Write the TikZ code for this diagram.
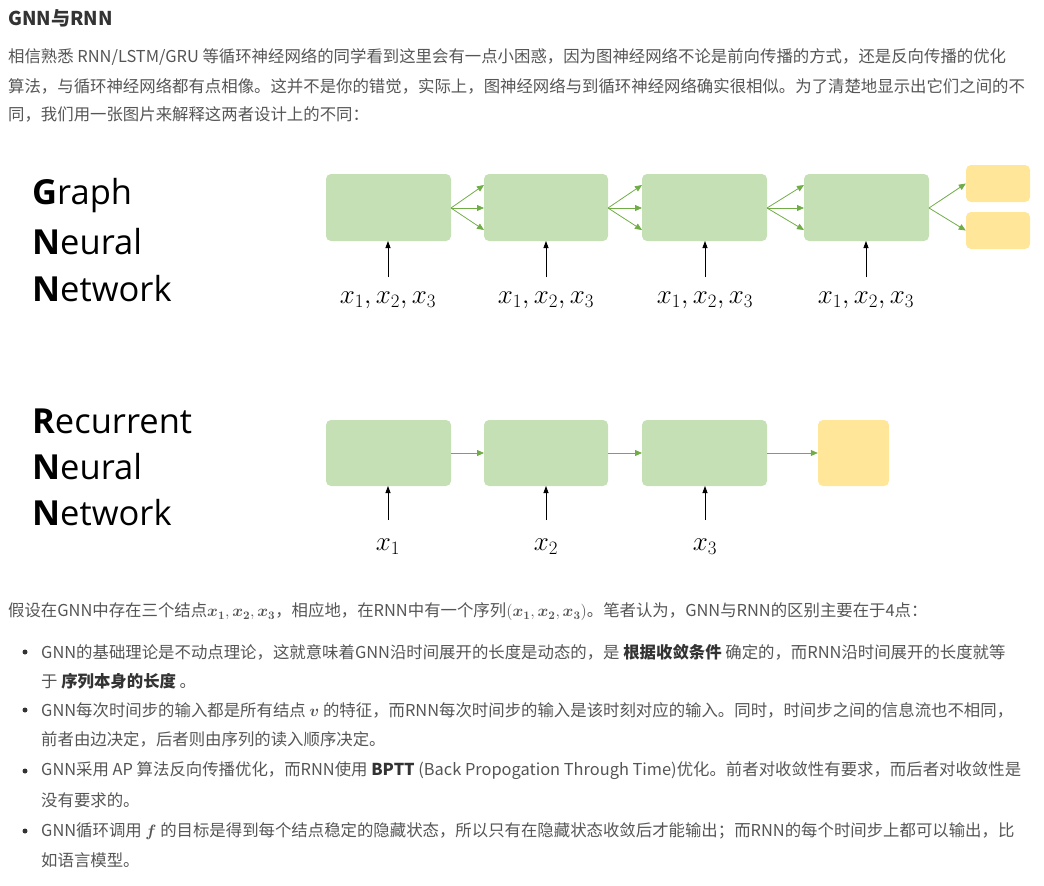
\RequirePackage{fix-cm}
\documentclass[tikz,border=0pt]{standalone}
\usepackage{amsmath}
\usepackage{fontspec}
\setmainfont{Noto Sans CJK SC}
\newfontfamily\os{Open Sans}
\usetikzlibrary{arrows.meta}
\definecolor{gbox}{HTML}{C5E0B4}
\definecolor{ybox}{HTML}{FFE699}
\definecolor{garr}{HTML}{70AD47}
\definecolor{txt}{HTML}{555555}
\definecolor{ttl}{HTML}{333333}
\tikzset{
 gb/.style={fill=gbox,rounded corners=5pt,draw=none},
 yb/.style={fill=ybox,rounded corners=5pt,draw=none},
 ga/.style={draw=garr,line width=0.8pt,-{Triangle[length=7pt,width=6pt]}},
 ba/.style={draw=black,line width=0.8pt,-{Triangle[length=7pt,width=5pt]}},
 lbl/.style={font=\fontsize{27}{30}\selectfont},
 big/.style={font=\os\fontsize{34.5}{38}\selectfont,anchor=west,inner sep=0},
 tx/.style={font=\fontsize{16.4}{19}\selectfont,text=txt,anchor=west,inner sep=0},
 dot/.style={circle,fill=ttl,inner sep=0,minimum size=5pt}
}
\begin{document}
\begin{tikzpicture}[x=1pt,y=-1pt]
\useasboundingbox (0,0) rectangle (1044,886);
\node[anchor=west,inner sep=0,font=\fontsize{19}{22}\selectfont\bfseries,text=ttl] (title) at (8,18) {GNN与RNN};
\node[tx] (p1) at (8,57) {相信熟悉 RNN/LSTM/GRU 等循环神经网络的同学看到这里会有一点小困惑，因为图神经网络不论是前向传播的方式，还是反向传播的优化};
\node[tx] (p2) at (8,86) {算法，与循环神经网络都有点相像。这并不是你的错觉，实际上，图神经网络与到循环神经网络确实很相似。为了清楚地显示出它们之间的不};
\node[tx] (p3) at (8,114) {同，我们用一张图片来解释这两者设计上的不同：};
% left labels
\node[big] (g1) at (32,196) {\textbf{G}raph};
\node[big] (g2) at (32,242) {\textbf{N}eural};
\node[big] (g3) at (32,289) {\textbf{N}etwork};
\node[big] (r1) at (32,421) {\textbf{R}ecurrent};
\node[big] (r2) at (32,467) {\textbf{N}eural};
\node[big] (r3) at (32,513) {\textbf{N}etwork};
% GNN
\foreach \i/\a/\b in {1/326/451,2/484/608,3/642/767,4/804/929}{
 \fill[gb] (\a,174) rectangle (\b,241);
 \coordinate (G\i r) at (\b,208);
 \coordinate (G\i l) at (\a,208);
 \coordinate (G\i t) at (\a,185);
 \coordinate (G\i d) at (\a,230);
}
\node[yb,minimum width=64pt,minimum height=37pt] (Y1) at (998,183.5) {};
\node[yb,minimum width=64pt,minimum height=37pt] (Y2) at (998,230.5) {};
\foreach \i/\j in {1/2,2/3,3/4}{
 \draw[ga] (G\i r) -- (G\j t);
 \draw[ga] (G\i r) -- (G\j l);
 \draw[ga] (G\i r) -- (G\j d);
}
\draw[ga] (G4r) -- (Y1.west);
\draw[ga] (G4r) -- (Y2.west);
\foreach \i/\x in {1/388,2/546,3/705,4/866}{
 \node[lbl] (gx\i) at (\x,300) {$x_1,x_2,x_3$};
 \coordinate (gu\i) at (\x,277);
 \coordinate (gv\i) at (\x,241);
 \draw[ba] (gu\i) -- (gv\i);
}
% RNN
\foreach \i/\a/\b in {1/326/451,2/484/608,3/642/767}{
 \fill[gb] (\a,420) rectangle (\b,486);
 \coordinate (R\i r) at (\b,453);
 \coordinate (R\i l) at (\a,453);
}
\node[yb,minimum width=71pt,minimum height=66pt] (Y3) at (853.5,453) {};
\draw[ga] (R1r) -- (R2l);
\draw[ga] (R2r) -- (R3l);
\draw[ga] (R3r) -- (Y3.west);
\foreach \i/\x in {1/388,2/546,3/705}{
 \node[lbl] (rx\i) at (\x,547) {$x_\i$};
 \coordinate (ru\i) at (\x,520);
 \coordinate (rv\i) at (\x,486);
 \draw[ba] (ru\i) -- (rv\i);
}
% bottom text
\node[tx] (q0) at (8,612) {假设在GNN中存在三个结点$\boldsymbol{x_1},\boldsymbol{x_2},\boldsymbol{x_3}$，相应地，在RNN中有一个序列$(\boldsymbol{x_1},\boldsymbol{x_2},\boldsymbol{x_3})$。笔者认为，GNN与RNN的区别主要在于4点：};
\foreach \y in {652,710,771,831}{\node[dot] at (25,\y) {};}
\node[tx] (b1a) at (41,652) {GNN的基础理论是不动点理论，这就意味着GNN沿时间展开的长度是动态的，是 \textcolor{ttl}{\bfseries 根据收敛条件} 确定的，而RNN沿时间展开的长度就等};
\node[tx] (b1b) at (41,681) {于 \textcolor{ttl}{\bfseries 序列本身的长度} 。};
\node[tx] (b2a) at (41,710) {GNN每次时间步的输入都是所有结点 $\boldsymbol{v}$ 的特征，而RNN每次时间步的输入是该时刻对应的输入。同时，时间步之间的信息流也不相同，};
\node[tx] (b2b) at (41,739) {前者由边决定，后者则由序列的读入顺序决定。};
\node[tx] (b3a) at (41,771) {GNN采用 AP 算法反向传播优化，而RNN使用 \textcolor{ttl}{\bfseries BPTT} (Back Propogation Through Time)优化。前者对收敛性有要求，而后者对收敛性是};
\node[tx] (b3b) at (41,800) {没有要求的。};
\node[tx] (b4a) at (41,831) {GNN循环调用 $\boldsymbol{f}$ 的目标是得到每个结点稳定的隐藏状态，所以只有在隐藏状态收敛后才能输出；而RNN的每个时间步上都可以输出，比};
\node[tx] (b4b) at (41,860) {如语言模型。};
\end{tikzpicture}
\end{document}
